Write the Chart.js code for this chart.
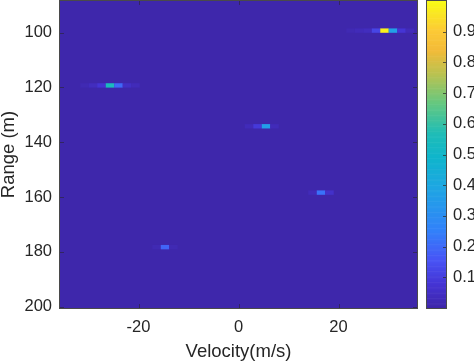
<!DOCTYPE html>
<html>
<head>
<meta charset="utf-8">
<script src="https://cdn.jsdelivr.net/npm/chart.js@4.4.1/dist/chart.umd.min.js"></script>
<style>
  html, body { margin: 0; padding: 0; background: #fff; }
</style>
</head>
<body>
<canvas id="chart" width="474" height="361"></canvas>
<script>
// range-doppler map: one entry per lit cell, everything else sits at the floor level
const velocity = [22.4, 24.1, 25.8, 27.5, 29.2, 30.9, 32.6, 34.3,
                  -30.8, -29.1, -27.4, -25.7, -24.0, -22.3, -20.6,
                  2.1, 3.8, 5.5, 7.2,
                  14.8, 16.5, 18.2,
                  -16.4, -14.7, -13.0];
const range = [99.3, 99.3, 99.3, 99.3, 99.3, 99.3, 99.3, 99.3,
               119.3, 119.3, 119.3, 119.3, 119.3, 119.3, 119.3,
               134.2, 134.2, 134.2, 134.2,
               158.4, 158.4, 158.4,
               178.3, 178.3, 178.3];
const power = [0.02, 0.03, 0.04, 0.12, 0.98, 0.37, 0.08, 0.03,
               0.02, 0.04, 0.08, 0.55, 0.20, 0.05, 0.03,
               0.03, 0.09, 0.36, 0.03,
               0.03, 0.22, 0.06,
               0.02, 0.19, 0.02];
const floorPower = 0.005;

const velocityTicks = [-20, 0, 20];
const rangeTicks = [100, 120, 140, 160, 180, 200];
const colorTicks = [0.1, 0.2, 0.3, 0.4, 0.5, 0.6, 0.7, 0.8, 0.9];

const binV = 1.7;   // m/s per doppler bin
const binR = 1.6;   // m per range bin
const vMin = -35.7, vMax = 35.7;
const rMin = 88.5, rMax = 200.5;

// parula, sampled
const parulaStops = [
  [0.000, 62, 38, 168],
  [0.079, 69, 52, 212],
  [0.159, 72, 85, 246],
  [0.254, 50, 130, 250],
  [0.397, 30, 167, 226],
  [0.492, 15, 181, 204],
  [0.571, 32, 189, 182],
  [0.667, 100, 200, 129],
  [0.762, 185, 194, 81],
  [0.841, 243, 187, 56],
  [0.905, 252, 202, 54],
  [1.000, 249, 251, 21]
];
function parula(t) {
  t = Math.max(0, Math.min(1, t));
  for (let i = 1; i < parulaStops.length; i++) {
    const a = parulaStops[i - 1], b = parulaStops[i];
    if (t <= b[0]) {
      const f = (t - a[0]) / (b[0] - a[0]);
      const c = [1, 2, 3].map(k => Math.round(a[k] + (b[k] - a[k]) * f));
      return `rgb(${c[0]},${c[1]},${c[2]})`;
    }
  }
  return 'rgb(249,251,21)';
}

const textColor = '#262626';
const fam = '"Liberation Sans", Arial, Helvetica, sans-serif';

// fixed box sizes so the plot lands where the matlab figure had it
function fixSize(w, h) {
  return s => {
    if (w) s.width = w;
    if (h) s.height = h;
    s.paddingTop = 0; s.paddingBottom = 0;
    s.paddingLeft = 0; s.paddingRight = 0;
  };
}

const heatmap = {
  id: 'heatmap',
  beforeDatasetsDraw(chart) {
    const { ctx, scales: { x, y } } = chart;
    ctx.save();
    const left = x.getPixelForValue(vMin), right = x.getPixelForValue(vMax);
    const top = y.getPixelForValue(rMin), bottom = y.getPixelForValue(rMax);
    ctx.fillStyle = parula(floorPower);
    ctx.fillRect(left, top, right - left, bottom - top);
    velocity.forEach((v, i) => {
      const l = x.getPixelForValue(v - binV / 2);
      const r = x.getPixelForValue(v + binV / 2);
      const t = y.getPixelForValue(range[i] - binR / 2);
      const b = y.getPixelForValue(range[i] + binR / 2);
      ctx.fillStyle = parula(power[i]);
      ctx.fillRect(l, Math.min(t, b), r - l, Math.abs(b - t));
    });
    ctx.restore();
  },
  afterDraw(chart) {
    const { ctx, chartArea: a, scales: { x, y, cbar } } = chart;
    ctx.save();
    // inward ticks, box on
    ctx.strokeStyle = 'rgba(38,38,38,0.55)';
    ctx.lineWidth = 1;
    ctx.beginPath();
    velocityTicks.forEach(v => {
      const px = Math.round(x.getPixelForValue(v)) + 0.5;
      ctx.moveTo(px, a.bottom); ctx.lineTo(px, a.bottom - 4);
      ctx.moveTo(px, a.top); ctx.lineTo(px, a.top + 4);
    });
    rangeTicks.forEach(r => {
      const py = Math.round(y.getPixelForValue(r)) + 0.5;
      ctx.moveTo(a.left, py); ctx.lineTo(a.left + 4, py);
      ctx.moveTo(a.right, py); ctx.lineTo(a.right - 4, py);
    });
    ctx.stroke();
    ctx.strokeStyle = '#4a4a4a';
    ctx.strokeRect(Math.round(a.left) - 0.5, Math.round(a.top) - 0.5,
                   Math.round(a.right - a.left) + 1, Math.round(a.bottom - a.top) + 1);

    // colorbar
    const cl = cbar.left + 10, cr = cbar.left + 29;
    const step = 0.004;
    for (let t = 0; t < 1; t += step) {
      const p0 = cbar.getPixelForValue(t), p1 = cbar.getPixelForValue(t + step);
      ctx.fillStyle = parula(t + step / 2);
      ctx.fillRect(cl, p1, cr - cl, p0 - p1 + 0.6);
    }
    ctx.strokeStyle = 'rgba(38,38,38,0.7)';
    ctx.beginPath();
    colorTicks.forEach(v => {
      const py = Math.round(cbar.getPixelForValue(v)) + 0.5;
      ctx.moveTo(cr, py); ctx.lineTo(cr - 3, py);
    });
    ctx.stroke();
    ctx.strokeStyle = '#4a4a4a';
    const ct = cbar.getPixelForValue(1), cb = cbar.getPixelForValue(0);
    ctx.strokeRect(Math.round(cl) - 0.5, Math.round(ct) - 0.5,
                   Math.round(cr - cl) + 1, Math.round(cb - ct) + 1);
    ctx.restore();
  }
};

const points = velocity.map((v, i) => ({ x: v, y: range[i] }));

new Chart(document.getElementById('chart'), {
  type: 'scatter',
  data: {
    datasets: [{
      label: 'power',
      data: points,
      pointRadius: 0,
      pointHoverRadius: 0
    }]
  },
  options: {
    responsive: false,
    animation: false,
    layout: { padding: { top: 1, left: 0, right: 0, bottom: 0 } },
    plugins: { legend: { display: false }, tooltip: { enabled: false } },
    scales: {
      x: {
        type: 'linear',
        min: vMin,
        max: vMax,
        afterBuildTicks: s => { s.ticks = velocityTicks.map(v => ({ value: v })); },
        afterFit: fixSize(0, 53),
        grid: { display: false, drawTicks: false },
        border: { display: false },
        ticks: { color: textColor, padding: 10, font: { family: fam, size: 16.5 } },
        title: {
          display: true,
          text: 'Velocity(m/s)',
          color: textColor,
          padding: 0,
          font: { family: fam, size: 18.5, lineHeight: 1 }
        }
      },
      y: {
        type: 'linear',
        reverse: true,
        min: rMin,
        max: rMax,
        afterBuildTicks: s => { s.ticks = rangeTicks.map(v => ({ value: v })); },
        afterFit: fixSize(60, 0),
        grid: { display: false, drawTicks: false },
        border: { display: false },
        ticks: { color: textColor, padding: 8, font: { family: fam, size: 16.5 } },
        title: {
          display: true,
          text: 'Range (m)',
          color: textColor,
          padding: 0,
          font: { family: fam, size: 18.5, lineHeight: 1 }
        }
      },
      cbar: {
        type: 'linear',
        axis: 'y',
        position: 'right',
        min: 0,
        max: 1,
        afterBuildTicks: s => { s.ticks = colorTicks.map(v => ({ value: v })); },
        afterFit: fixSize(57, 0),
        grid: { display: false, drawTicks: false },
        border: { display: false },
        ticks: { color: textColor, padding: 36, font: { family: fam, size: 16.5 } }
      }
    }
  },
  plugins: [heatmap]
});
</script>
</body>
</html>
